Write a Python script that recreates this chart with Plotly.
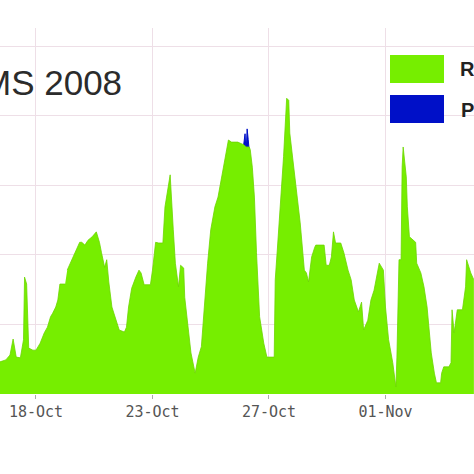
import plotly.graph_objects as go

# Time axis: hours since 18-Oct 00:00 (tick spacing 112 h)
tick_hours = [0, 112, 224, 336]
tick_labels = ["18-Oct", "23-Oct", "27-Oct", "01-Nov"]
hidden_tick_label = "06-Nov"

# Series R (green area)
r_hours = [-35, -29, -25, -22, -19, -15, -12, -11, -9, -8, -7, -3, 0, 4, 8, 11, 14, 16, 19, 21,
           23, 28, 29, 30, 33, 36, 39, 42, 44, 47, 50, 54, 58, 61, 63, 66, 68, 70, 73, 77,
           80, 85, 87, 89, 92, 96, 99, 101, 104, 110, 112, 115, 118, 122, 124, 129, 130, 132, 134, 137,
           139, 142, 143, 146, 149, 153, 156, 159, 162, 165, 168, 172, 175, 178, 182, 185, 188, 194, 200, 202,
           205, 206, 208, 210, 212, 215, 219, 222, 229, 230, 232, 235, 238, 241, 243, 244, 248, 251, 254, 258,
           260, 262, 265, 268, 269, 277, 279, 282, 284, 286, 288, 293, 296, 300, 303, 306, 310, 313, 315, 319,
           322, 325, 330, 334, 336, 339, 343, 346, 347, 349, 351, 352, 353, 356, 357, 359, 363, 365, 366, 370,
           373, 376, 378, 380, 383, 385, 389, 390, 392, 397, 399, 400, 402, 405, 410, 413, 414, 418, 421]
r_values = [46, 49, 56, 79, 53, 52, 78, 168, 158, 111, 66, 63, 63, 73, 88, 96, 111, 116, 125, 135,
            158, 158, None, 178, 188, 200, 210, 218, 218, 214, 221, 226, 233, 218, 203, 182, 193, 161, 125, 106,
            92, 89, 96, 125, 152, 168, 178, 174, 157, 157, 178, 218, 217, 217, 269, 315, 293, 236, 188, 154,
            185, 181, 139, 102, 59, 30, 53, 68, 131, 188, 236, 269, 283, 307, 341, 365, 362, 362, 358, 355,
            355, 351, 326, 283, 203, 111, 73, 53, 53, 164, 207, 269, 341, 425, 422, 375, 326, 283, 246, 178,
            174, 161, 197, 211, 214, 214, 185, 185, 197, 233, 217, 217, 203, 178, 164, 135, 118, 132, 92, 106,
            135, 149, 188, 178, 125, 78, 45, 10, 53, 193, 193, 326, 355, 312, 269, 226, 221, 218, 188, 174,
            154, 125, 92, 59, 30, 16, 16, 30, 39, 39, 45, 121, 88, 121, 121, 154, 193, 174, 164]

# Series P (blue)
p_hours = [199, 200, 201, 202, 203, 204, 205]
p_values = [350, 364, 374, 345, 381, 366, 350]

GREEN = "#76ee00"
BLUE = "#0010c8"
GRID = "#eedfe7"

fig = go.Figure()
fig.add_trace(go.Scatter(x=p_hours, y=p_values, mode="lines", fill="tozeroy",
                         line=dict(color=BLUE, width=1), fillcolor=BLUE,
                         showlegend=False, hoverinfo="skip"))
fig.add_trace(go.Scatter(x=r_hours, y=r_values, mode="lines", fill="tozeroy",
                         connectgaps=False,
                         line=dict(color="#6cd600", width=0.8), fillcolor=GREEN,
                         showlegend=False, hoverinfo="skip"))

fig.update_layout(
    width=474, height=474,
    margin=dict(l=0, r=0, t=28, b=80),
    paper_bgcolor="white", plot_bgcolor="white",
    xaxis=dict(range=[-34.6, 421.1], tickvals=tick_hours, ticktext=tick_labels,
               showgrid=True, gridcolor=GRID, gridwidth=1, zeroline=False,
               ticks="outside", ticklen=4, tickcolor="#aaaaaa",
               tickfont=dict(family="DejaVu Sans Mono", size=15, color="#555555"),
               showline=False),
    yaxis=dict(range=[0, 526], tickvals=[100, 200, 300, 400, 500],
               showticklabels=False, showgrid=True, gridcolor=GRID, gridwidth=1,
               zeroline=False, showline=False),
    shapes=[
        dict(type="rect", xref="paper", yref="paper", x0=367/474, x1=1.01,
             y0=(394-136)/366, y1=(394-47)/366, fillcolor="white",
             line=dict(width=0), layer="between"),
        dict(type="rect", xref="paper", yref="paper", x0=390/474, x1=444/474,
             y0=(394-83)/366, y1=(394-55)/366, fillcolor=GREEN,
             line=dict(width=0), layer="above"),
        dict(type="rect", xref="paper", yref="paper", x0=390/474, x1=444/474,
             y0=(394-123)/366, y1=(394-95)/366, fillcolor=BLUE,
             line=dict(width=0), layer="above"),
    ],
    annotations=[
        dict(text="MS 2008", xref="paper", yref="paper", x=124/474, y=(394-82)/366,
             xanchor="right", yanchor="middle", showarrow=False,
             font=dict(family="Liberation Sans", size=35, color="#2b2b2b")),
        dict(text="<b>R</b>", xref="paper", yref="paper", x=458/474, y=(394-69)/366,
             xanchor="left", yanchor="middle", showarrow=False,
             font=dict(family="Liberation Sans", size=20, color="#222222")),
        dict(text="<b>P</b>", xref="paper", yref="paper", x=459/474, y=(394-110)/366,
             xanchor="left", yanchor="middle", showarrow=False,
             font=dict(family="Liberation Sans", size=20, color="#222222")),
        dict(text=hidden_tick_label, xref="paper", yref="paper", x=472/474, y=(394-414)/366,
             xanchor="left", yanchor="middle", showarrow=False,
             font=dict(family="DejaVu Sans Mono", size=15, color="#555555")),
    ],
)

fig.write_html("out.html", config={"displayModeBar": False},
               post_script="document.body.style.margin='0';document.body.style.overflow='hidden';")
